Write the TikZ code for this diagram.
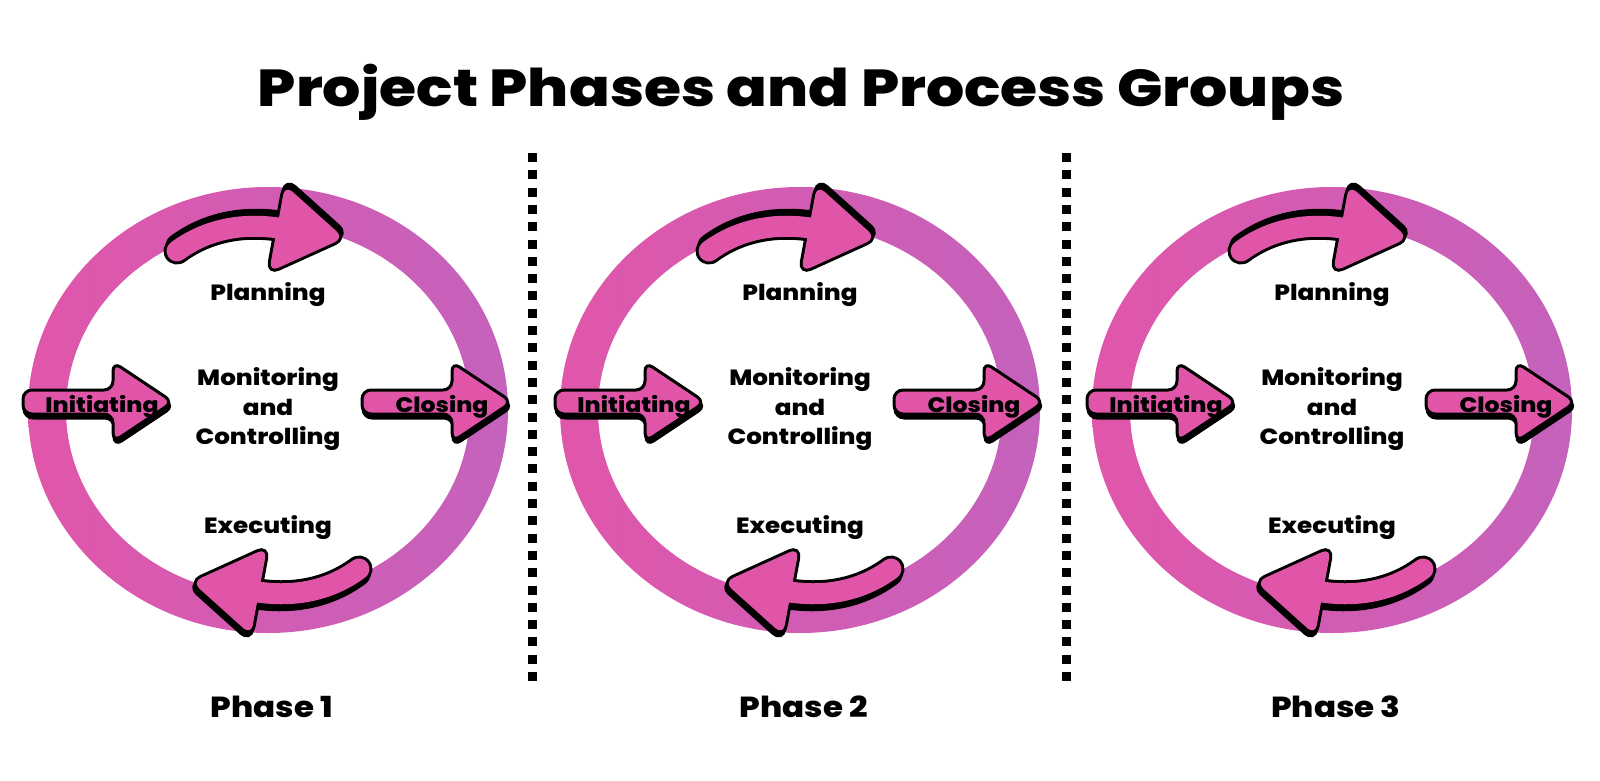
\documentclass[tikz,border=0pt]{standalone}
\usepackage{fontspec}
\setmainfont{Poppins}
\newfontfamily\heavy{Poppins ExtraBold}[FakeStretch=1.12]
\newfontfamily\heavytitle{Poppins ExtraBold}[FakeStretch=1.155]
\definecolor{pk}{RGB}{224,85,168}
\definecolor{ringL}{RGB}{224,86,170}
\definecolor{ringR}{RGB}{196,98,188}
\tikzset{
  inlbl/.style={font=\heavy\fontsize{22}{22}\selectfont, anchor=base, inner sep=0pt},
  arrlbl/.style={font=\heavy\fontsize{21}{21}\selectfont, anchor=base, inner sep=0pt},
  phaselbl/.style={font=\heavy\fontsize{29}{29}\selectfont, anchor=base, inner sep=0pt},
  titlelbl/.style={font=\heavytitle\fontsize{52}{52}\selectfont, anchor=base, inner sep=0pt},
  dots/.style={line width=9pt, dash pattern=on 9pt off 8.3pt},
}
\newcommand\blockarr[4]{% x0 xb xt yc
  \filldraw[black, line width=3pt, rounded corners=9pt, shift={(1,4)}]
    (#1,#4-12) -- (#2,#4-12) -- (#2,#4-40) -- (#3,#4) -- (#2,#4+40) -- (#2,#4+12) -- (#1,#4+12) -- cycle;
  \filldraw[fill=pk, draw=black, line width=3pt, rounded corners=9pt]
    (#1,#4-12) -- (#2,#4-12) -- (#2,#4-40) -- (#3,#4) -- (#2,#4+40) -- (#2,#4+12) -- (#1,#4+12) -- cycle;
}
\newcommand\curvarr{%
  \begin{scope}[shift={(1.5,-4)}]
    \draw[black, line width=27pt, line cap=round] (-91,-159) .. controls (-60,-182) and (-22,-188) .. (16,-181);
    \filldraw[black, line width=6pt, rounded corners=10pt] (17,-225) -- (76,-172) -- (1,-138) -- cycle;
  \end{scope}
  \draw[black, line width=27pt, line cap=round] (-91,-159) .. controls (-60,-182) and (-22,-188) .. (16,-181);
  \filldraw[black, line width=6pt, rounded corners=10pt] (17,-225) -- (76,-172) -- (1,-138) -- cycle;
  \fill[pk, rounded corners=10pt] (17,-225) -- (76,-172) -- (1,-138) -- cycle;
  \draw[pk, line width=21pt, line cap=round] (-91,-159) .. controls (-60,-182) and (-22,-188) .. (16,-181);
}
\begin{document}
\begin{tikzpicture}[x=1pt,y=-1pt]
\useasboundingbox (0,0) rectangle (1600,781);
\fill[white] (0,0) rectangle (1600,781);

\node[titlelbl] (title) at (801,107) {Project Phases and Process Groups};

\coordinate (d1t) at (532,153);
\coordinate (d1b) at (532,683);
\coordinate (d2t) at (1066,153);
\coordinate (d2b) at (1066,683);
\draw[dots] (d1t) -- (d1b);
\draw[dots] (d2t) -- (d2b);

\foreach \cx/\n in {268/1, 800/2, 1332/3} {
  \begin{scope}[shift={(\cx,410)}]
    \shade[left color=ringL, right color=ringR, even odd rule]
      (0,0) ellipse [x radius=240, y radius=223]
      (0,0) ellipse [x radius=202, y radius=185];
    \curvarr
    \begin{scope}[rotate=180]
      \curvarr
    \end{scope}
    \blockarr{-245}{-155}{-95}{-8}
    \blockarr{94}{184}{244}{-8}
    \node[arrlbl] (init\n) at (-166,2) {Initiating};
    \node[arrlbl] (clos\n) at (174,2) {Closing};
    \node[inlbl] (plan\n) at (0,-110) {Planning};
    \node[inlbl] (mon\n) at (0,-25) {Monitoring};
    \node[inlbl] (and\n) at (0,5) {and};
    \node[inlbl] (ctrl\n) at (0,34) {Controlling};
    \node[inlbl] (exec\n) at (0,123) {Executing};
    \node[phaselbl] (ph\n) at (4,307) {Phase \n};
  \end{scope}
}
\end{tikzpicture}
\end{document}
